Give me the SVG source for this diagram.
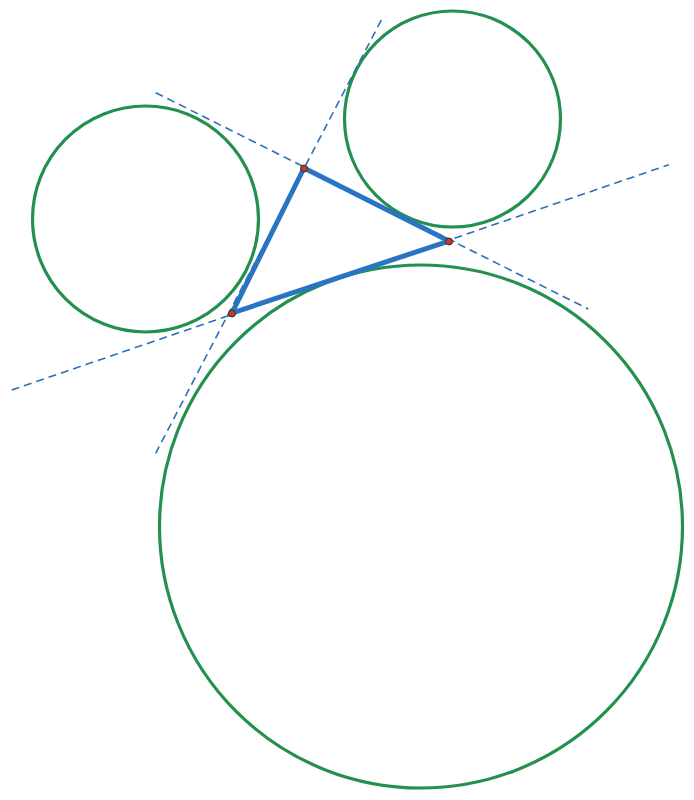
<svg xmlns="http://www.w3.org/2000/svg" width="694" height="800" viewBox="0 0 694 800">
<style>
.circ{fill:none;stroke:#23904f;stroke-width:3.2}
.dash{fill:none;stroke:#2a6fbd;stroke-width:1.6;stroke-dasharray:8 5}
.tri{fill:none;stroke:#2a74c4;stroke-width:5;stroke-linejoin:miter}
.pt{fill:#c0392b;stroke:#333;stroke-width:1}
</style>
<rect width="694" height="800" fill="#ffffff"/>
<g id="circle-left"><circle class="circ" cx="145.5" cy="219" r="113"/></g>
<g id="circle-top"><circle class="circ" cx="452.5" cy="119" r="108"/></g>
<g id="circle-big"><circle class="circ" cx="421" cy="526.5" r="261.5"/></g>
<g id="connectors">
<line class="dash" x1="155.7" y1="92.7" x2="588.3" y2="309"/>
<line class="dash" x1="381.3" y1="20" x2="155.7" y2="453.3"/>
<line class="dash" x1="11.7" y1="390" x2="669" y2="164.7"/>
<polygon class="tri" points="304,168 449,241 232,313"/>
</g>
<g id="A"><circle class="pt" cx="304" cy="168.5" r="3.5"/></g>
<g id="B"><circle class="pt" cx="449" cy="241.5" r="3.5"/></g>
<g id="C"><circle class="pt" cx="232" cy="313.5" r="3.5"/></g>
</svg>
